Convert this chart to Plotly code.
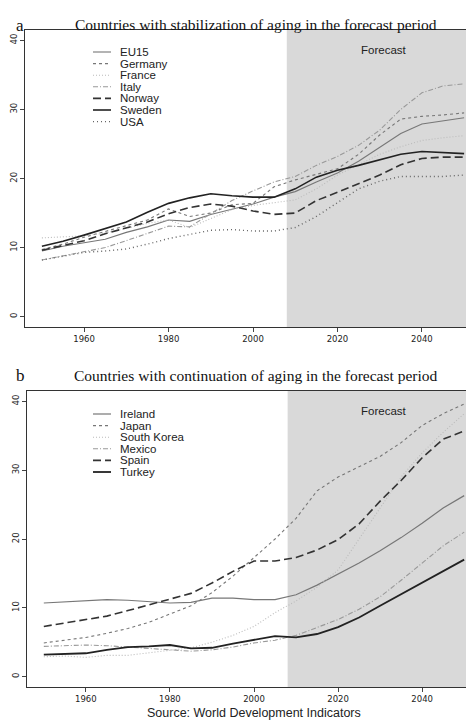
import plotly.graph_objects as go

years = list(range(1950, 2051, 5))

# Panel a
eu15    = [9.5,10.2,10.7,11.2,12.2,13.0,14.0,13.8,14.8,15.6,16.3,17.3,18.1,19.5,20.8,22.5,24.5,26.5,27.9,28.4,28.8]
germany = [9.7,10.5,11.5,12.3,13.2,14.0,15.6,14.5,15.0,16.2,16.4,18.8,19.8,20.6,21.4,23.5,26.3,28.6,29.0,29.2,29.5]
france  = [11.4,11.6,11.7,12.1,12.8,13.5,14.0,12.9,14.2,15.5,16.1,16.5,16.9,18.5,20.5,22.0,23.5,24.6,25.5,25.9,26.2]
italy   = [8.2,8.8,9.3,10.0,11.0,12.0,13.1,13.0,14.9,16.8,18.2,19.5,20.3,21.9,23.2,24.8,27.0,30.0,32.4,33.4,33.7]
norway  = [9.6,10.3,11.0,12.0,12.8,13.7,14.9,15.8,16.3,16.0,15.3,14.8,15.0,16.8,18.0,19.2,20.5,22.0,22.9,23.1,23.1]
sweden  = [10.2,10.9,11.8,12.7,13.7,15.1,16.4,17.2,17.8,17.5,17.3,17.3,18.5,20.2,21.2,21.9,22.7,23.5,23.9,23.8,23.6]
usa     = [8.2,8.8,9.3,9.5,9.8,10.5,11.3,11.9,12.5,12.6,12.4,12.4,12.9,14.5,16.5,18.5,19.6,20.3,20.3,20.3,20.5]

# Panel b
ireland = [10.7,10.9,11.1,11.2,11.1,10.9,10.7,10.8,11.4,11.4,11.2,11.2,11.9,13.3,14.9,16.5,18.3,20.2,22.3,24.5,26.3]
japan   = [4.9,5.3,5.7,6.3,7.0,7.9,9.1,10.3,12.2,14.6,17.3,20.0,23.0,27.0,29.0,30.5,32.0,34.0,36.5,38.2,39.6]
korea   = [2.9,3.0,2.8,3.1,3.1,3.5,3.9,4.2,5.0,6.0,7.3,9.3,11.0,13.0,15.5,20.0,24.5,29.0,32.5,35.5,38.2]
mexico  = [4.4,4.5,4.6,4.5,4.3,4.1,3.8,3.7,3.9,4.3,4.9,5.3,6.0,7.1,8.3,9.8,11.6,14.0,16.5,19.0,21.0]
spain   = [7.3,7.8,8.2,8.8,9.6,10.4,11.2,12.1,13.6,15.3,16.8,16.8,17.3,18.4,19.9,22.2,25.5,28.5,31.8,34.5,35.7]
turkey  = [3.2,3.3,3.4,3.9,4.3,4.4,4.6,4.1,4.2,4.8,5.4,5.9,5.7,6.2,7.2,8.6,10.3,12.0,13.7,15.4,17.0]

styles_a = [("EU15", eu15, "#777777", "solid", 1.1),
            ("Germany", germany, "#777777", "3px,3px", 1.1),
            ("France", france, "#bbbbbb", "1px,2px", 1.1),
            ("Italy", italy, "#999999", "5px,2px,1px,2px", 1.1),
            ("Norway", norway, "#333333", "8px,4px", 1.6),
            ("Sweden", sweden, "#222222", "solid", 1.6),
            ("USA", usa, "#666666", "1px,3px", 1.4)]
styles_b = [("Ireland", ireland, "#777777", "solid", 1.2),
            ("Japan", japan, "#777777", "3px,3px", 1.1),
            ("South Korea", korea, "#bbbbbb", "1px,2px", 1.1),
            ("Mexico", mexico, "#999999", "5px,2px,1px,2px", 1.1),
            ("Spain", spain, "#333333", "8px,4px", 1.6),
            ("Turkey", turkey, "#222222", "solid", 1.8)]

fig = go.Figure()
shapes, annots = [], []
W, H = 474, 722
def px(x): return x / W
def py(y): return 1 - y / H

for styles, xa, ya, leg_top in [(styles_a, "x", "y", 44), (styles_b, "x2", "y2", 406)]:
    for i, (name, vals, col, dash, w) in enumerate(styles):
        fig.add_trace(go.Scatter(x=years, y=vals, mode="lines", name=name, xaxis=xa, yaxis=ya,
                                 line=dict(color=col, dash=dash, width=w), showlegend=False))
        yy = leg_top + i * 11.6
        shapes.append(dict(type="line", xref="paper", yref="paper", x0=px(85), x1=px(103),
                           y0=py(yy), y1=py(yy), line=dict(color=col, dash=dash, width=w)))
        annots.append(dict(xref="paper", yref="paper", x=px(110), y=py(yy), text=name,
                           showarrow=False, xanchor="left", yanchor="middle",
                           font=dict(family="Liberation Sans", size=11.5, color="#222")))
    shapes.append(dict(type="rect", xref=xa, yref=ya + " domain", x0=2008, x1=2054, y0=0, y1=1,
                       fillcolor="#d9d9d9", line=dict(width=0), layer="below"))
    annots.append(dict(xref=xa, yref=ya + " domain", x=2031, y=0.96, text="Forecast", showarrow=False,
                       font=dict(family="Liberation Sans", size=11.5, color="#222")))

annots += [
    dict(xref="paper", yref="paper", x=px(248), y=py(6), text="Countries with stabilization of aging in the forecast period",
         showarrow=False, font=dict(family="Liberation Serif", size=15.5, color="#111")),
    dict(xref="paper", yref="paper", x=px(248), y=py(367), text="Countries with continuation of aging in the forecast period",
         showarrow=False, font=dict(family="Liberation Serif", size=15.5, color="#111")),
    dict(xref="paper", yref="paper", x=px(6), y=py(6), text="a", showarrow=False,
         font=dict(family="Liberation Serif", size=17, color="#111")),
    dict(xref="paper", yref="paper", x=px(6), y=py(367), text="b", showarrow=False,
         font=dict(family="Liberation Serif", size=17, color="#111")),
    dict(xref="paper", yref="paper", x=px(246), y=py(714), text="Source: World Development Indicators",
         showarrow=False, font=dict(family="Liberation Sans", size=12.5, color="#222")),
]

ax = dict(range=[1946, 2054], tickvals=[1960, 1980, 2000, 2020, 2040], ticks="outside", ticklen=4,
          showgrid=False, zeroline=False, showline=True, mirror=True, linecolor="#333", linewidth=1,
          tickfont=dict(family="DejaVu Sans", size=8.5, color="#222"))
ay = dict(range=[-1.5, 41.5], tickvals=[0, 10, 20, 30, 40], ticks="outside", ticklen=4, tickangle=-90,
          showgrid=False, zeroline=False, showline=True, mirror=True, linecolor="#333", linewidth=1,
          tickfont=dict(family="DejaVu Sans", size=8.5, color="#222"))

fig.update_layout(
    width=W, height=H, margin=dict(l=0, r=0, t=0, b=0),
    paper_bgcolor="white", plot_bgcolor="white",
    xaxis=dict(ax, domain=[px(17), px(473)], anchor="y"),
    yaxis=dict(ay, domain=[py(319), py(22)], anchor="x"),
    xaxis2=dict(ax, domain=[px(19), px(473)], anchor="y2"),
    yaxis2=dict(ay, domain=[py(679), py(383)], anchor="x2"),
    shapes=shapes, annotations=annots, showlegend=False,
)
fig.write_html("out.html")
